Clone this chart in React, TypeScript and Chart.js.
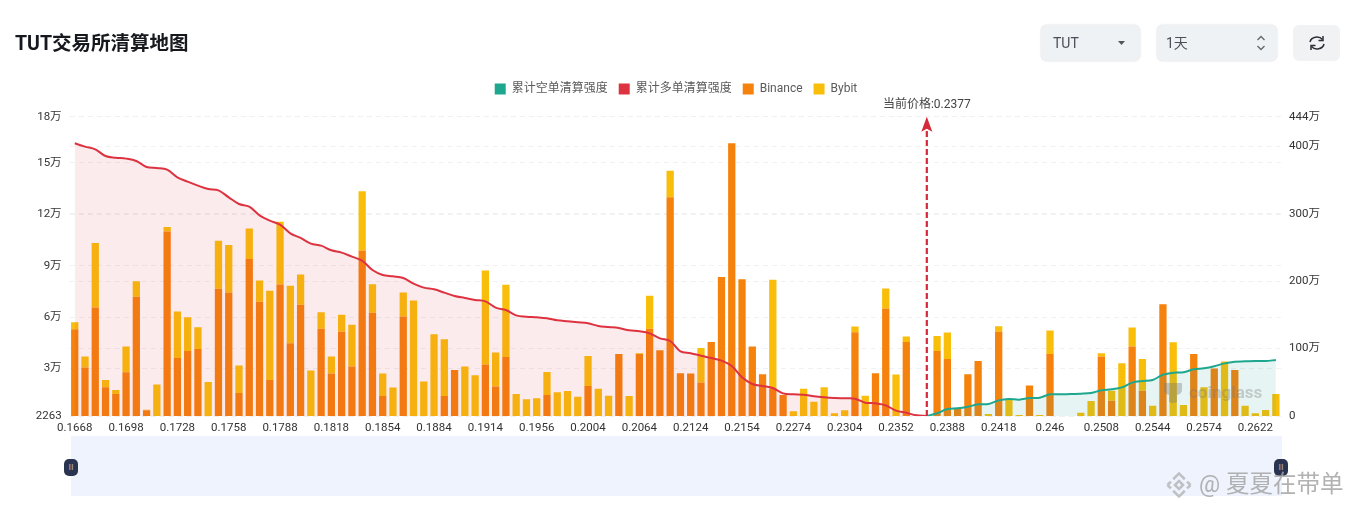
import React, { useEffect, useRef } from "react";
import { Chart, registerables } from "chart.js";

Chart.register(...registerables);

const tickLabels = ["0.1668","0.1698","0.1728","0.1758","0.1788","0.1818","0.1854","0.1884","0.1914","0.1956","0.2004","0.2064","0.2124","0.2154","0.2274","0.2304","0.2352","0.2388","0.2418","0.246","0.2508","0.2544","0.2574","0.2622"];
const leftTicks = [2263, 30000, 60000, 90000, 120000, 150000, 177000];
const rightTicks = [0, 1000000, 2000000, 3000000, 4000000, 4440000];
const currentPriceIndex = 83;
const currentPriceLabel = "当前价格:0.2377";

const binance = [52937,30524,65606,19024,15126,27795,71842,5576,0,110043,36176,40269,41438,0,76520,74376,15711,93866,68919,23312,79054,44751,67165,0,53132,27015,51378,31108,98933,62487,13957,0,60343,0,0,0,13957,29159,0,0,32278,19414,36760,0,0,0,14542,0,0,0,19804,0,0,38514,0,38514,53132,40658,129923,27210,27015,21753,45531,83341,161496,82172,42802,26626,18440,14542,0,0,0,0,0,0,51183,0,27210,65021,0,45531,0,0,40269,35591,6356,26626,34422,0,51378,0,0,19999,0,38514,0,0,0,0,36955,11228,0,42802,17075,0,67555,0,0,38514,0,29939,0,29159,0,0,0,0];
const bybit = [4093,6432,37616,4288,2339,15007,9160,390,20584,2534,27091,19685,12669,22143,28066,27676,15982,17931,12474,52038,36641,33523,17736,28769,9745,9940,9940,24363,34497,16761,13058,18830,14033,69698,22338,50014,33133,0,31108,26041,54962,19880,42098,15126,12008,12593,13448,16101,16881,13567,17541,18245,14152,0,13957,390,19295,0,15592,0,0,20270,0,0,0,0,0,0,63343,0,4992,18245,10644,19024,3822,5576,3313,14152,0,11694,26431,3118,0,0,8771,15397,0,0,0,3432,3313,12008,2848,0,2848,13643,0,0,4212,11034,1949,5847,33057,11109,18516,8305,0,45336,8695,0,19024,0,34032,0,8305,3822,5771,15126];
const longCumulative = [4045000,3996000,3956000,3857000,3832000,3818000,3783000,3694000,3679000,3654000,3541000,3476000,3417000,3368000,3348000,3244000,3145000,3105000,2977000,2898000,2838000,2710000,2641000,2557000,2527000,2458000,2423000,2364000,2304000,2166000,2092000,2072000,2047000,1963000,1904000,1879000,1830000,1780000,1751000,1721000,1701000,1607000,1573000,1493000,1474000,1464000,1449000,1419000,1404000,1390000,1375000,1335000,1320000,1305000,1271000,1256000,1226000,1152000,1113000,959000,930000,895000,860000,821000,742000,574000,475000,445000,415000,336000,321000,316000,292000,277000,267000,262000,257000,198000,188000,158000,79000,49000,10000,0];
const shortCumulative = [0,40000,104000,114000,138000,173000,178000,232000,252000,242000,267000,272000,321000,321000,326000,331000,341000,381000,396000,425000,495000,519000,534000,613000,643000,648000,692000,707000,737000,781000,806000,811000,816000,816000,831000];

const FONT = 'Roboto, "Noto Sans CJK SC", sans-serif';
const RED = "#dd3340";
const TEAL = "#1da78e";

const wan = (v: number) => {
  if (v === 0) return "0";
  if (v < 10000) return String(v);
  return Math.round(v / 10000) + "万";
};

const pricePlugin = {
  id: "currentPrice",
  afterDatasetsDraw(chart: any) {
    const { ctx, scales, chartArea } = chart;
    const x = scales.x.getPixelForValue(currentPriceIndex);
    ctx.save();
    ctx.strokeStyle = "#d42a3a";
    ctx.fillStyle = "#d42a3a";
    ctx.lineWidth = 2.2;
    ctx.setLineDash([6, 3]);
    ctx.beginPath();
    ctx.moveTo(x, chartArea.bottom);
    ctx.lineTo(x, chartArea.top + 12);
    ctx.stroke();
    ctx.setLineDash([]);
    ctx.beginPath();
    ctx.moveTo(x, chartArea.top);
    ctx.lineTo(x + 5.5, chartArea.top + 15);
    ctx.lineTo(x, chartArea.top + 12);
    ctx.lineTo(x - 5.5, chartArea.top + 15);
    ctx.closePath();
    ctx.fill();
    ctx.fillStyle = "#444";
    ctx.font = `12px ${FONT}`;
    ctx.textAlign = "center";
    ctx.textBaseline = "middle";
    ctx.fillText(currentPriceLabel, x, chartArea.top - 12);
    ctx.restore();
  },
};

const legendSizePlugin = {
  id: "legendSize",
  beforeInit(chart: any) {
    const fit = chart.legend.fit;
    chart.legend.fit = function () {
      fit.call(this);
      this.height = 44.7;
    };
  },
};

const box: React.CSSProperties = {
  position: "absolute",
  top: 25,
  height: 36,
  boxSizing: "border-box",
  background: "#eff2f5",
  borderRadius: 6,
  boxShadow: "0 0 2px rgba(0,0,0,.18)",
  font: `14px ${FONT}`,
  color: "#4a5058",
  lineHeight: "36px",
};

const handle = (left: number): React.CSSProperties => ({
  position: "absolute",
  left,
  top: 459,
  width: 14,
  height: 17,
  borderRadius: 5,
  background: "#2a3350",
  color: "#aeb6c8",
  font: "9px sans-serif",
  lineHeight: "16px",
  textAlign: "center",
});

export default function App() {
  const ref = useRef<HTMLCanvasElement>(null);
  useEffect(() => {
    const categories = binance.map((_, i) => i);
    const chart = new Chart(ref.current!, {
      type: "bar",
      plugins: [pricePlugin, legendSizePlugin],
      data: {
        labels: categories,
        datasets: [
          {
            type: "line",
            label: "累计空单清算强度",
            data: [...new Array(currentPriceIndex).fill(null), ...shortCumulative],
            yAxisID: "yR",
            borderColor: TEAL,
            backgroundColor: "rgba(29,167,142,.11)",
            borderWidth: 2,
            pointRadius: 0,
            tension: 0.35,
            fill: "origin",
            order: 0,
          },
          {
            type: "line",
            label: "累计多单清算强度",
            data: longCumulative,
            yAxisID: "yR",
            borderColor: RED,
            backgroundColor: "rgba(230,57,70,.1)",
            borderWidth: 2,
            pointRadius: 0,
            tension: 0.35,
            fill: "origin",
            order: 0,
          },
          { type: "bar", label: "Binance", data: binance, yAxisID: "yL", stack: "s", backgroundColor: "#f5820d", order: 1, barPercentage: 0.71, categoryPercentage: 1 },
          { type: "bar", label: "Bybit", data: bybit, yAxisID: "yL", stack: "s", backgroundColor: "#f9be0a", order: 1, barPercentage: 0.71, categoryPercentage: 1 },
        ],
      } as any,
      options: {
        responsive: false,
        animation: false,
        devicePixelRatio: 1,
        layout: { padding: { top: 72, left: 0, right: 0, bottom: 70 } },
        plugins: {
          tooltip: { enabled: false },
          legend: {
            position: "top",
            labels: {
              boxWidth: 11,
              boxHeight: 11,
              padding: 11,
              color: "#5a5a5a",
              font: { family: FONT, size: 12 },
              generateLabels: (chart: any) =>
                chart.data.datasets.map((d: any, i: number) => ({
                  text: d.label,
                  datasetIndex: i,
                  fillStyle: d.type === "line" ? d.borderColor : d.backgroundColor,
                  strokeStyle: "transparent",
                  lineWidth: 0,
                  fontColor: "#5a5a5a",
                })),
            },
          },
        },
        scales: {
          x: {
            stacked: true,
            offset: true,
            grid: { display: false, drawTicks: false },
            border: { display: false },
            ticks: {
              autoSkip: false,
              maxRotation: 0,
              padding: 5,
              color: "#333",
              font: { family: FONT, size: 11.5 },
              callback: (_: any, i: number) => (i % 5 === 0 ? tickLabels[i / 5] : ""),
            },
            afterFit: (s: any) => { s.height = 24; },
          },
          yL: {
            position: "left",
            stacked: true,
            min: leftTicks[0],
            max: leftTicks[leftTicks.length - 1],
            afterBuildTicks: (s: any) => { s.ticks = leftTicks.map((value) => ({ value })); },
            afterFit: (s: any) => { s.width = 69.6; },
            grid: { color: "#f1f1f1", drawTicks: false } as any,
            border: { display: false, dash: [5, 4] },
            ticks: { padding: 8, color: "#333", font: { family: FONT, size: 11.5 }, callback: (v: any) => wan(v) },
          },
          yR: {
            position: "right",
            min: rightTicks[0],
            max: rightTicks[rightTicks.length - 1],
            afterBuildTicks: (s: any) => { s.ticks = rightTicks.map((value) => ({ value })); },
            afterFit: (s: any) => { s.width = 71; },
            grid: { color: "#f1f1f1", drawTicks: false } as any,
            border: { display: false, dash: [5, 4] },
            ticks: { padding: 8, color: "#333", font: { family: FONT, size: 11.5 }, callback: (v: any) => wan(v) },
          },
        },
      },
    } as any);
    return () => chart.destroy();
  }, []);

  return (
    <div style={{ position: "absolute", left: 0, top: 0, width: 1352, height: 510, overflow: "hidden", background: "#fff" }}>
      <div style={{ position: "absolute", left: 71, top: 436, width: 1211, height: 60, background: "#eff3fd" }} />
      <div style={handle(64)}>II</div>
      <div style={handle(1274)}>II</div>
      <canvas ref={ref} width={1352} height={510} style={{ position: "absolute", left: 0, top: 0, width: 1352, height: 510 }} />
      <div style={{ position: "absolute", left: 15, top: 30, font: `bold 19.5px ${FONT}`, lineHeight: "28px", color: "#16181d", whiteSpace: "nowrap" }}>TUT交易所清算地图</div>
      <div style={{ ...box, left: 1041, width: 99, paddingLeft: 12 }}>
        TUT
        <svg width="8" height="5" style={{ position: "absolute", left: 77, top: 16 }}><path d="M0 0H7L3.5 4Z" fill="#555" /></svg>
      </div>
      <div style={{ ...box, left: 1157, width: 120, paddingLeft: 9 }}>
        1天
        <svg width="10" height="16" style={{ position: "absolute", left: 99, top: 10 }}><path d="M1.5 5L5 1.5L8.5 5M1.5 11L5 14.5L8.5 11" fill="none" stroke="#666" strokeWidth="1.3" /></svg>
      </div>
      <div style={{ ...box, left: 1293, width: 47, boxShadow: "none", background: "#f1f2f4" }}>
        <svg width="18" height="16" viewBox="0 0 18 16" style={{ position: "absolute", left: 15, top: 10 }}>
          <path d="M2 7A7 6 0 0 1 14.5 4.5M16 9A7 6 0 0 1 3.5 11.5" fill="none" stroke="#2b2f36" strokeWidth="1.5" />
          <path d="M15 1V5.5H10.5M3 15V10.5H7.5" fill="none" stroke="#2b2f36" strokeWidth="1.5" />
        </svg>
      </div>
      <svg width="22" height="24" viewBox="0 0 22 24" style={{ position: "absolute", left: 1162, top: 380 }}>
        <path d="M2 3H20V10Q20 14 15 15V22Q11 24 7 22V15Q2 14 2 10Z" fill="rgba(120,120,120,.38)" />
      </svg>
      <div style={{ position: "absolute", left: 1189, top: 382, font: `bold 17px ${FONT}`, color: "rgba(120,120,120,.34)", lineHeight: "20px" }}>coinglass</div>
      <svg width="30" height="30" viewBox="0 0 26 26" style={{ position: "absolute", left: 1164, top: 470 }}>
        <g fill="none" stroke="rgba(175,175,175,.75)" strokeWidth="2.2">
          <path d="M8 8L13 3L18 8M8 18L13 23L18 18M3 13L6 10M3 13L6 16M23 13L20 10M23 13L20 16" />
          <path d="M13 9.5L16.5 13L13 16.5L9.5 13Z" />
        </g>
      </svg>
      <div style={{ position: "absolute", left: 1199, top: 469, font: `23.5px ${FONT}`, lineHeight: "30px", color: "rgba(165,165,165,.85)", whiteSpace: "nowrap" }}>@ 夏夏在带单</div>
    </div>
  );
}
